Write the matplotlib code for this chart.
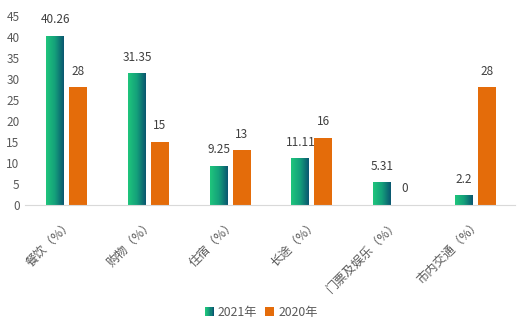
import numpy as np
import matplotlib
matplotlib.use("Agg")
import matplotlib.pyplot as plt
from matplotlib.colors import LinearSegmentedColormap
from matplotlib.patches import Rectangle
from matplotlib.legend_handler import HandlerBase

plt.rcParams['font.family'] = ['Noto Sans CJK SC', 'DejaVu Sans']

# 消费类别与两年的占比
categories = ['餐饮（%）', '购物（%）', '住宿（%）', '长途（%）', '门票及娱乐（%）', '市内交通（%）']
values_2021 = [40.26, 31.35, 9.25, 11.11, 5.31, 2.2]
values_2020 = [28, 15, 13, 16, 0, 28]
series_names = ['2021年', '2020年']

green_left = '#1fc57c'
green_right = '#0a5670'
orange = '#e46c0a'
text_grey = '#595959'

green_cmap = LinearSegmentedColormap.from_list('g', [green_left, '#14a07a', green_right])

fig = plt.figure(figsize=(5.22, 3.29), dpi=100)
ax = fig.add_axes([0.048, 0.377, 0.939, 0.574])

x = np.arange(len(categories))
width = 0.22
gap = 0.06

bars21 = ax.bar(x - (width + gap) / 2 + 0.01, values_2021, width, color='none', edgecolor='none')
bars20 = ax.bar(x + (width + gap) / 2 + 0.01, values_2020, width, color=orange, edgecolor='none')

# 2021 柱子用横向渐变填充
grad = np.linspace(0, 1, 64).reshape(1, -1)
for b in bars21:
    x0, y0 = b.get_x(), b.get_y()
    w, h = b.get_width(), b.get_height()
    if h <= 0:
        continue
    ax.imshow(grad, cmap=green_cmap, aspect='auto', extent=[x0, x0 + w, y0, y0 + h],
              zorder=2, interpolation='bilinear')

for b, v in zip(bars21, values_2021):
    ax.annotate(f'{v:g}', (b.get_x() + b.get_width() / 2, v), xytext=(0, 7),
                textcoords='offset points', ha='center', va='bottom', fontsize=8.5, color='#404040')
for b, v in zip(bars20, values_2020):
    ax.annotate(f'{v:g}', (b.get_x() + b.get_width() / 2, v), xytext=(0, 7),
                textcoords='offset points', ha='center', va='bottom', fontsize=8.5, color='#404040')

ax.set_xlim(-0.5, len(categories) - 0.5)
ax.set_ylim(0, 45)
ax.set_yticks(np.arange(0, 46, 5))
ax.set_xticks(x)
ax.set_xticklabels(categories, rotation=45, ha='right', rotation_mode='anchor',
                   fontsize=8.8, color=text_grey)
ax.tick_params(axis='y', length=0, labelsize=8.5, labelcolor=text_grey, pad=4)
ax.tick_params(axis='x', length=0, pad=9)

for s in ['top', 'right', 'left']:
    ax.spines[s].set_visible(False)
ax.spines['bottom'].set_color('#d9d9d9')


class GradientHandler(HandlerBase):
    def create_artists(self, legend, orig_handle, xdescent, ydescent, width, height, fontsize, trans):
        n = 8
        side = min(width, height)
        x0 = -xdescent + (width - side) / 2
        arts = []
        for i in range(n):
            c = green_cmap(i / (n - 1))
            r = Rectangle((x0 + side * i / n, -ydescent), side / n + 0.05, side,
                          facecolor=c, edgecolor='none', transform=trans)
            arts.append(r)
        return arts


class SquareHandler(HandlerBase):
    def create_artists(self, legend, orig_handle, xdescent, ydescent, width, height, fontsize, trans):
        side = min(width, height)
        x0 = -xdescent + (width - side) / 2
        return [Rectangle((x0, -ydescent), side, side, facecolor=orig_handle.get_facecolor(),
                          edgecolor='none', transform=trans)]


h21 = Rectangle((0, 0), 1, 1, facecolor=green_left)
h20 = Rectangle((0, 0), 1, 1, facecolor=orange)
leg = fig.legend([h21, h20], series_names, loc='center', bbox_to_anchor=(0.5, 0.05),
                 ncol=2, frameon=False, fontsize=8.8, handlelength=0.8, handleheight=0.8,
                 handletextpad=0.3, columnspacing=0.6,
                 handler_map={h21: GradientHandler(), h20: SquareHandler()})
for t in leg.get_texts():
    t.set_color(text_grey)

fig.savefig('out.png', dpi=100)
